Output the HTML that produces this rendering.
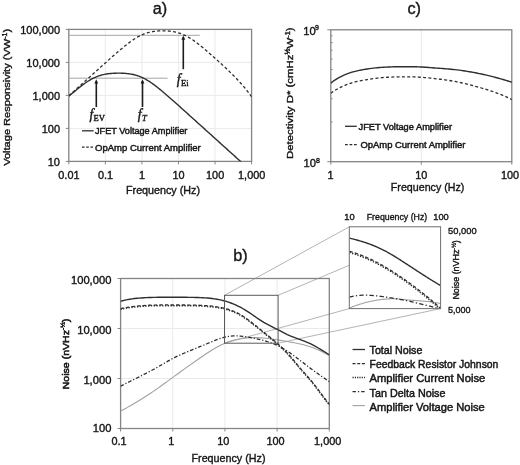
<!DOCTYPE html>
<html lang="en">
<head>
<meta charset="utf-8">
<title>Figure: responsivity, noise and detectivity</title>
<style>
html,body{margin:0;padding:0;background:#fff;}
body{width:520px;height:465px;overflow:hidden;}
svg{display:block;}
text{font-kerning:normal;stroke:#161616;stroke-width:0.38px;}
</style>
</head>
<body>
<svg width="520" height="465" viewBox="0 0 520 465">
<rect x="0" y="0" width="520" height="465" fill="#ffffff"/>
<clipPath id="ca"><rect x="68.8" y="29.4" width="182.8" height="132.0"/></clipPath>
<line x1="105.36" y1="29.4" x2="105.36" y2="161.4" stroke="#eaeaea" stroke-width="1" />
<line x1="141.92" y1="29.4" x2="141.92" y2="161.4" stroke="#eaeaea" stroke-width="1" />
<line x1="178.48" y1="29.4" x2="178.48" y2="161.4" stroke="#eaeaea" stroke-width="1" />
<line x1="215.04" y1="29.4" x2="215.04" y2="161.4" stroke="#eaeaea" stroke-width="1" />
<line x1="68.8" y1="62.40" x2="251.6" y2="62.40" stroke="#eaeaea" stroke-width="1" />
<line x1="68.8" y1="95.40" x2="251.6" y2="95.40" stroke="#eaeaea" stroke-width="1" />
<line x1="68.8" y1="128.40" x2="251.6" y2="128.40" stroke="#eaeaea" stroke-width="1" />
<rect x="68.8" y="29.4" width="182.8" height="132.0" fill="none" stroke="#848484" stroke-width="1.3"/>
<line x1="68.80" y1="161.4" x2="68.80" y2="164.4" stroke="#848484" stroke-width="1" />
<line x1="105.36" y1="161.4" x2="105.36" y2="164.4" stroke="#848484" stroke-width="1" />
<line x1="141.92" y1="161.4" x2="141.92" y2="164.4" stroke="#848484" stroke-width="1" />
<line x1="178.48" y1="161.4" x2="178.48" y2="164.4" stroke="#848484" stroke-width="1" />
<line x1="215.04" y1="161.4" x2="215.04" y2="164.4" stroke="#848484" stroke-width="1" />
<line x1="251.60" y1="161.4" x2="251.60" y2="164.4" stroke="#848484" stroke-width="1" />
<line x1="65.8" y1="29.40" x2="68.8" y2="29.40" stroke="#848484" stroke-width="1" />
<line x1="65.8" y1="62.40" x2="68.8" y2="62.40" stroke="#848484" stroke-width="1" />
<line x1="65.8" y1="95.40" x2="68.8" y2="95.40" stroke="#848484" stroke-width="1" />
<line x1="65.8" y1="128.40" x2="68.8" y2="128.40" stroke="#848484" stroke-width="1" />
<line x1="65.8" y1="161.40" x2="68.8" y2="161.40" stroke="#848484" stroke-width="1" />
<line x1="68.8" y1="78.2" x2="167.5" y2="78.2" stroke="#a6a6a6" stroke-width="1" />
<line x1="68.8" y1="35.3" x2="199.8" y2="35.3" stroke="#a6a6a6" stroke-width="1" />
<path d="M68.80,96.31 L69.95,95.31 L71.10,94.32 L72.25,93.33 L73.40,92.35 L74.55,91.38 L75.70,90.43 L76.85,89.48 L78.00,88.54 L79.15,87.62 L80.30,86.72 L81.45,85.83 L82.60,84.96 L83.75,84.12 L84.90,83.30 L86.05,82.50 L87.19,81.73 L88.34,80.99 L89.49,80.29 L90.64,79.61 L91.79,78.98 L92.94,78.38 L94.09,77.81 L95.24,77.28 L96.39,76.80 L97.54,76.35 L98.69,75.93 L99.84,75.56 L100.99,75.21 L102.14,74.90 L103.29,74.63 L104.44,74.38 L105.59,74.16 L106.74,73.97 L107.89,73.80 L109.04,73.66 L110.19,73.53 L111.34,73.43 L112.49,73.34 L113.64,73.27 L114.79,73.22 L115.94,73.18 L117.09,73.15 L118.24,73.14 L119.39,73.15 L120.54,73.17 L121.69,73.20 L122.84,73.25 L123.98,73.31 L125.13,73.39 L126.28,73.49 L127.43,73.61 L128.58,73.74 L129.73,73.90 L130.88,74.09 L132.03,74.30 L133.18,74.53 L134.33,74.80 L135.48,75.10 L136.63,75.42 L137.78,75.79 L138.93,76.19 L140.08,76.63 L141.23,77.10 L142.38,77.61 L143.53,78.16 L144.68,78.75 L145.83,79.37 L146.98,80.03 L148.13,80.73 L149.28,81.46 L150.43,82.21 L151.58,83.00 L152.73,83.81 L153.88,84.65 L155.03,85.51 L156.18,86.39 L157.33,87.29 L158.48,88.20 L159.63,89.13 L160.77,90.07 L161.92,91.03 L163.07,91.99 L164.22,92.97 L165.37,93.95 L166.52,94.94 L167.67,95.94 L168.82,96.94 L169.97,97.94 L171.12,98.95 L172.27,99.97 L173.42,100.99 L174.57,102.01 L175.72,103.03 L176.87,104.05 L178.02,105.08 L179.17,106.10 L180.32,107.13 L181.47,108.16 L182.62,109.20 L183.77,110.23 L184.92,111.26 L186.07,112.29 L187.22,113.33 L188.37,114.36 L189.52,115.40 L190.67,116.43 L191.82,117.47 L192.97,118.50 L194.12,119.54 L195.27,120.58 L196.42,121.61 L197.56,122.65 L198.71,123.69 L199.86,124.72 L201.01,125.76 L202.16,126.80 L203.31,127.84 L204.46,128.87 L205.61,129.91 L206.76,130.95 L207.91,131.98 L209.06,133.02 L210.21,134.06 L211.36,135.10 L212.51,136.13 L213.66,137.17 L214.81,138.21 L215.96,139.25 L217.11,140.29 L218.26,141.32 L219.41,142.36 L220.56,143.40 L221.71,144.44 L222.86,145.47 L224.01,146.51 L225.16,147.55 L226.31,148.59 L227.46,149.62 L228.61,150.66 L229.76,151.70 L230.91,152.74 L232.06,153.78 L233.21,154.81 L234.35,155.85 L235.50,156.89 L236.65,157.93 L237.80,158.96 L238.95,160.00 L240.10,161.04 L241.25,162.08 L242.40,163.11 L243.55,164.15 L244.70,165.19 L245.85,166.23 L247.00,167.27 L248.15,168.30 L249.30,169.34 L250.45,170.38 L251.60,171.42" fill="none" stroke="#2e2e2e" stroke-width="1.4" stroke-linecap="butt" stroke-linejoin="round" clip-path="url(#ca)"/>
<path d="M68.80,95.84 L69.95,94.80 L71.10,93.76 L72.25,92.72 L73.40,91.69 L74.55,90.65 L75.70,89.61 L76.85,88.57 L78.00,87.54 L79.15,86.50 L80.30,85.46 L81.45,84.42 L82.60,83.39 L83.75,82.35 L84.90,81.31 L86.05,80.28 L87.19,79.24 L88.34,78.20 L89.49,77.17 L90.64,76.13 L91.79,75.09 L92.94,74.06 L94.09,73.02 L95.24,71.99 L96.39,70.95 L97.54,69.92 L98.69,68.89 L99.84,67.85 L100.99,66.82 L102.14,65.79 L103.29,64.76 L104.44,63.73 L105.59,62.70 L106.74,61.68 L107.89,60.65 L109.04,59.63 L110.19,58.61 L111.34,57.59 L112.49,56.58 L113.64,55.57 L114.79,54.56 L115.94,53.56 L117.09,52.56 L118.24,51.57 L119.39,50.59 L120.54,49.61 L121.69,48.64 L122.84,47.69 L123.98,46.74 L125.13,45.81 L126.28,44.89 L127.43,43.99 L128.58,43.11 L129.73,42.24 L130.88,41.40 L132.03,40.58 L133.18,39.79 L134.33,39.03 L135.48,38.30 L136.63,37.60 L137.78,36.93 L138.93,36.30 L140.08,35.71 L141.23,35.16 L142.38,34.64 L143.53,34.16 L144.68,33.72 L145.83,33.31 L146.98,32.95 L148.13,32.62 L149.28,32.32 L150.43,32.05 L151.58,31.82 L152.73,31.61 L153.88,31.43 L155.03,31.28 L156.18,31.15 L157.33,31.05 L158.48,30.96 L159.63,30.90 L160.77,30.86 L161.92,30.83 L163.07,30.83 L164.22,30.84 L165.37,30.87 L166.52,30.92 L167.67,30.99 L168.82,31.08 L169.97,31.20 L171.12,31.33 L172.27,31.50 L173.42,31.68 L174.57,31.90 L175.72,32.14 L176.87,32.42 L178.02,32.73 L179.17,33.07 L180.32,33.45 L181.47,33.87 L182.62,34.32 L183.77,34.82 L184.92,35.35 L186.07,35.92 L187.22,36.52 L188.37,37.17 L189.52,37.85 L190.67,38.56 L191.82,39.30 L192.97,40.07 L194.12,40.88 L195.27,41.70 L196.42,42.55 L197.56,43.43 L198.71,44.32 L199.86,45.23 L201.01,46.15 L202.16,47.09 L203.31,48.04 L204.46,49.01 L205.61,49.98 L206.76,50.96 L207.91,51.95 L209.06,52.95 L210.21,53.96 L211.36,54.97 L212.51,55.99 L213.66,57.01 L214.81,58.04 L215.96,59.07 L217.11,60.10 L218.26,61.14 L219.41,62.19 L220.56,63.24 L221.71,64.30 L222.86,65.36 L224.01,66.42 L225.16,67.50 L226.31,68.57 L227.46,69.66 L228.61,70.76 L229.76,71.86 L230.91,72.98 L232.06,74.11 L233.21,75.25 L234.35,76.40 L235.50,77.58 L236.65,78.77 L237.80,79.98 L238.95,81.21 L240.10,82.47 L241.25,83.75 L242.40,85.06 L243.55,86.41 L244.70,87.78 L245.85,89.19 L247.00,90.63 L248.15,92.11 L249.30,93.63 L250.45,95.19 L251.60,96.78" fill="none" stroke="#2e2e2e" stroke-width="1.3" stroke-linecap="butt" stroke-linejoin="round" stroke-dasharray="3 2.3" clip-path="url(#ca)"/>
<line x1="96.3" y1="81.3" x2="96.3" y2="107" stroke="#1c1c1c" stroke-width="1.6" />
<path d="M96.3,79.3 L94.39999999999999,83.5 L98.2,83.5 Z" fill="#1c1c1c"/>
<line x1="142.5" y1="81.3" x2="142.5" y2="107" stroke="#1c1c1c" stroke-width="1.6" />
<path d="M142.5,79.3 L140.6,83.5 L144.4,83.5 Z" fill="#1c1c1c"/>
<line x1="183.3" y1="37.6" x2="183.3" y2="69.2" stroke="#1c1c1c" stroke-width="1.6" />
<path d="M183.3,35.6 L181.4,39.800000000000004 L185.20000000000002,39.800000000000004 Z" fill="#1c1c1c"/>
<text x="89.4" y="118.6" font-family='"Liberation Serif", serif' font-size="13.8" fill="#161616"><tspan font-style="italic">f</tspan><tspan dx="0.3" dy="2.7" font-size="8.6">EV</tspan></text>
<text x="137.8" y="118.6" font-family='"Liberation Serif", serif' font-size="13.8" fill="#161616"><tspan font-style="italic">f</tspan><tspan dx="0.3" dy="2.7" font-size="8.6" font-style="italic">T</tspan></text>
<text x="176.8" y="83.6" font-family='"Liberation Serif", serif' font-size="13.8" fill="#161616"><tspan font-style="italic">f</tspan><tspan dx="0.3" dy="2.7" font-size="8.6">Ei</tspan></text>
<line x1="82" y1="130.8" x2="93.6" y2="130.8" stroke="#2e2e2e" stroke-width="1.3" />
<text x="95" y="133.8" font-family='"Liberation Sans", sans-serif' font-size="9.2" text-anchor="start" fill="#161616" textLength="92.3" lengthAdjust="spacingAndGlyphs" style="stroke-width:0.45px">JFET Voltage Amplifier</text>
<line x1="82" y1="147.2" x2="93" y2="147.2" stroke="#2e2e2e" stroke-width="1.3" stroke-dasharray="2.6 1.6"/>
<text x="95" y="150.6" font-family='"Liberation Sans", sans-serif' font-size="9.2" text-anchor="start" fill="#161616" textLength="105.8" lengthAdjust="spacingAndGlyphs" style="stroke-width:0.45px">OpAmp Current Amplifier</text>
<text x="60" y="34.00" font-family='"Liberation Sans", sans-serif' font-size="11.0" text-anchor="end" fill="#161616">100,000</text>
<text x="60" y="67.00" font-family='"Liberation Sans", sans-serif' font-size="11.0" text-anchor="end" fill="#161616">10,000</text>
<text x="60" y="100.00" font-family='"Liberation Sans", sans-serif' font-size="11.0" text-anchor="end" fill="#161616">1,000</text>
<text x="60" y="133.00" font-family='"Liberation Sans", sans-serif' font-size="11.0" text-anchor="end" fill="#161616">100</text>
<text x="60" y="166.00" font-family='"Liberation Sans", sans-serif' font-size="11.0" text-anchor="end" fill="#161616">10</text>
<text x="68.90" y="178.8" font-family='"Liberation Sans", sans-serif' font-size="10.9" text-anchor="middle" fill="#161616">0.01</text>
<text x="105.46" y="178.8" font-family='"Liberation Sans", sans-serif' font-size="10.9" text-anchor="middle" fill="#161616">0.1</text>
<text x="142.02" y="178.8" font-family='"Liberation Sans", sans-serif' font-size="10.9" text-anchor="middle" fill="#161616">1</text>
<text x="178.58" y="178.8" font-family='"Liberation Sans", sans-serif' font-size="10.9" text-anchor="middle" fill="#161616">10</text>
<text x="215.14" y="178.8" font-family='"Liberation Sans", sans-serif' font-size="10.9" text-anchor="middle" fill="#161616">100</text>
<text x="251.70" y="178.8" font-family='"Liberation Sans", sans-serif' font-size="10.9" text-anchor="middle" fill="#161616">1,000</text>
<text x="163" y="193.9" font-family='"Liberation Sans", sans-serif' font-size="11" text-anchor="middle" fill="#161616" textLength="74" lengthAdjust="spacingAndGlyphs">Frequency (Hz)</text>
<text x="10.2" y="97.3" font-family='"Liberation Sans", sans-serif' font-size="9.9" text-anchor="middle" fill="#161616" textLength="137" lengthAdjust="spacingAndGlyphs" transform="rotate(-90 10.2 97.3)">Voltage Responsivity (VW<tspan font-size="6.3" dy="-3.4">-1</tspan><tspan dy="3.4">)</tspan></text>
<text x="160" y="14.3" font-family='"Liberation Sans", sans-serif' font-size="16.3" text-anchor="middle" fill="#161616">a)</text>
<clipPath id="cc"><rect x="330.8" y="29.8" width="181.0" height="131.89999999999998"/></clipPath>
<line x1="421.30" y1="29.8" x2="421.30" y2="161.7" stroke="#eaeaea" stroke-width="1" />
<rect x="330.8" y="29.8" width="181.0" height="131.89999999999998" fill="none" stroke="#848484" stroke-width="1.3"/>
<line x1="330.80" y1="161.7" x2="330.80" y2="164.7" stroke="#848484" stroke-width="1" />
<line x1="421.30" y1="161.7" x2="421.30" y2="164.7" stroke="#848484" stroke-width="1" />
<line x1="511.80" y1="161.7" x2="511.80" y2="164.7" stroke="#848484" stroke-width="1" />
<line x1="327.3" y1="161.70" x2="330.8" y2="161.70" stroke="#848484" stroke-width="1" />
<line x1="330.8" y1="121.99" x2="332.8" y2="121.99" stroke="#848484" stroke-width="0.8" />
<line x1="330.8" y1="98.77" x2="332.8" y2="98.77" stroke="#848484" stroke-width="0.8" />
<line x1="330.8" y1="82.29" x2="332.8" y2="82.29" stroke="#848484" stroke-width="0.8" />
<line x1="330.8" y1="69.51" x2="332.8" y2="69.51" stroke="#848484" stroke-width="0.8" />
<line x1="330.8" y1="59.06" x2="332.8" y2="59.06" stroke="#848484" stroke-width="0.8" />
<line x1="330.8" y1="50.23" x2="332.8" y2="50.23" stroke="#848484" stroke-width="0.8" />
<line x1="330.8" y1="42.58" x2="332.8" y2="42.58" stroke="#848484" stroke-width="0.8" />
<line x1="330.8" y1="35.84" x2="332.8" y2="35.84" stroke="#848484" stroke-width="0.8" />
<line x1="327.3" y1="29.80" x2="330.8" y2="29.80" stroke="#848484" stroke-width="1" />
<path d="M330.75,83.10 L332.79,81.55 L334.82,80.13 L336.86,78.82 L338.90,77.63 L340.93,76.54 L342.97,75.55 L345.01,74.66 L347.04,73.85 L349.08,73.11 L351.12,72.45 L353.15,71.86 L355.19,71.32 L357.22,70.84 L359.26,70.40 L361.30,70.00 L363.33,69.63 L365.37,69.29 L367.41,68.97 L369.44,68.67 L371.48,68.40 L373.52,68.15 L375.55,67.92 L377.59,67.72 L379.63,67.53 L381.66,67.37 L383.70,67.23 L385.74,67.12 L387.77,67.02 L389.81,66.94 L391.85,66.87 L393.88,66.81 L395.92,66.77 L397.96,66.74 L399.99,66.72 L402.03,66.70 L404.06,66.69 L406.10,66.68 L408.14,66.68 L410.17,66.69 L412.21,66.72 L414.25,66.75 L416.28,66.80 L418.32,66.87 L420.36,66.95 L422.39,67.06 L424.43,67.18 L426.47,67.32 L428.50,67.47 L430.54,67.62 L432.58,67.78 L434.61,67.93 L436.65,68.08 L438.69,68.23 L440.72,68.39 L442.76,68.54 L444.79,68.70 L446.83,68.87 L448.87,69.05 L450.90,69.24 L452.94,69.44 L454.98,69.66 L457.01,69.90 L459.05,70.16 L461.09,70.43 L463.12,70.72 L465.16,71.03 L467.20,71.35 L469.23,71.69 L471.27,72.04 L473.31,72.41 L475.34,72.80 L477.38,73.19 L479.42,73.61 L481.45,74.04 L483.49,74.48 L485.53,74.94 L487.56,75.41 L489.60,75.90 L491.63,76.41 L493.67,76.93 L495.71,77.46 L497.74,78.01 L499.78,78.58 L501.82,79.16 L503.85,79.76 L505.89,80.37 L507.93,81.00 L509.96,81.64 L512.00,82.30" fill="none" stroke="#2e2e2e" stroke-width="1.4" stroke-linecap="butt" stroke-linejoin="round" clip-path="url(#cc)"/>
<path d="M330.75,93.30 L332.79,91.84 L334.82,90.49 L336.86,89.25 L338.90,88.12 L340.93,87.08 L342.97,86.13 L345.01,85.27 L347.04,84.48 L349.08,83.76 L351.12,83.11 L353.15,82.52 L355.19,81.98 L357.22,81.49 L359.26,81.04 L361.30,80.62 L363.33,80.23 L365.37,79.86 L367.41,79.52 L369.44,79.19 L371.48,78.89 L373.52,78.60 L375.55,78.34 L377.59,78.10 L379.63,77.89 L381.66,77.69 L383.70,77.52 L385.74,77.37 L387.77,77.24 L389.81,77.13 L391.85,77.03 L393.88,76.96 L395.92,76.90 L397.96,76.85 L399.99,76.82 L402.03,76.80 L404.06,76.79 L406.10,76.79 L408.14,76.81 L410.17,76.84 L412.21,76.88 L414.25,76.94 L416.28,77.02 L418.32,77.12 L420.36,77.24 L422.39,77.38 L424.43,77.54 L426.47,77.71 L428.50,77.90 L430.54,78.11 L432.58,78.32 L434.61,78.55 L436.65,78.78 L438.69,79.02 L440.72,79.27 L442.76,79.53 L444.79,79.80 L446.83,80.10 L448.87,80.41 L450.90,80.74 L452.94,81.10 L454.98,81.48 L457.01,81.88 L459.05,82.31 L461.09,82.75 L463.12,83.22 L465.16,83.70 L467.20,84.20 L469.23,84.71 L471.27,85.23 L473.31,85.76 L475.34,86.30 L477.38,86.85 L479.42,87.42 L481.45,88.00 L483.49,88.60 L485.53,89.21 L487.56,89.84 L489.60,90.50 L491.63,91.18 L493.67,91.88 L495.71,92.61 L497.74,93.37 L499.78,94.15 L501.82,94.97 L503.85,95.82 L505.89,96.71 L507.93,97.64 L509.96,98.60 L512.00,99.60" fill="none" stroke="#2e2e2e" stroke-width="1.3" stroke-linecap="butt" stroke-linejoin="round" stroke-dasharray="3 2.3" clip-path="url(#cc)"/>
<line x1="345" y1="126.3" x2="356.8" y2="126.3" stroke="#2e2e2e" stroke-width="1.3" />
<text x="358.5" y="129.5" font-family='"Liberation Sans", sans-serif' font-size="9.2" text-anchor="start" fill="#161616" textLength="93.5" lengthAdjust="spacingAndGlyphs" style="stroke-width:0.45px">JFET Voltage Amplifier</text>
<line x1="345" y1="144.6" x2="357" y2="144.6" stroke="#2e2e2e" stroke-width="1.3" stroke-dasharray="2.8 1.7"/>
<text x="360.4" y="147.8" font-family='"Liberation Sans", sans-serif' font-size="9.2" text-anchor="start" fill="#161616" textLength="105" lengthAdjust="spacingAndGlyphs" style="stroke-width:0.45px">OpAmp Current Amplifier</text>
<text x="303.2" y="34.5" font-family='"Liberation Sans", sans-serif' font-size="11.2" text-anchor="start" fill="#161616">10<tspan font-size="7" dx="-0.6" dy="-4.8">9</tspan></text>
<text x="303.6" y="167.2" font-family='"Liberation Sans", sans-serif' font-size="11.2" text-anchor="start" fill="#161616">10<tspan font-size="7" dy="-4.2">8</tspan></text>
<text x="330.6" y="178.9" font-family='"Liberation Sans", sans-serif' font-size="10.9" text-anchor="middle" fill="#161616">1</text>
<text x="421.2" y="178.9" font-family='"Liberation Sans", sans-serif' font-size="10.9" text-anchor="middle" fill="#161616">10</text>
<text x="510.0" y="178.9" font-family='"Liberation Sans", sans-serif' font-size="10.9" text-anchor="middle" fill="#161616">100</text>
<text x="427.6" y="190.9" font-family='"Liberation Sans", sans-serif' font-size="11" text-anchor="middle" fill="#161616" textLength="73.5" lengthAdjust="spacingAndGlyphs">Frequency (Hz)</text>
<text x="293.2" y="93.2" font-family='"Liberation Sans", sans-serif' font-size="9.9" text-anchor="middle" fill="#161616" textLength="131.6" lengthAdjust="spacingAndGlyphs" transform="rotate(-90 293.2 93.2)">Detectivity D* (cmHz<tspan font-size="6.3" dy="-3.4">½</tspan><tspan dy="3.4">W</tspan><tspan font-size="6.3" dy="-3.4">-1</tspan><tspan dy="3.4">)</tspan></text>
<text x="414.2" y="13.8" font-family='"Liberation Sans", sans-serif' font-size="16.3" text-anchor="middle" fill="#161616">c)</text>
<clipPath id="cb"><rect x="120.6" y="278.5" width="208.70000000000002" height="150.0"/></clipPath>
<line x1="172.78" y1="278.5" x2="172.78" y2="428.5" stroke="#eaeaea" stroke-width="1" />
<line x1="224.95" y1="278.5" x2="224.95" y2="428.5" stroke="#eaeaea" stroke-width="1" />
<line x1="277.12" y1="278.5" x2="277.12" y2="428.5" stroke="#eaeaea" stroke-width="1" />
<line x1="120.6" y1="328.50" x2="329.3" y2="328.50" stroke="#eaeaea" stroke-width="1" />
<line x1="120.6" y1="378.50" x2="329.3" y2="378.50" stroke="#eaeaea" stroke-width="1" />
<line x1="224.5" y1="295.3" x2="349.3" y2="226.8" stroke="#b4b4b4" stroke-width="1" />
<line x1="278.1" y1="295.3" x2="440.6" y2="226.8" stroke="#b4b4b4" stroke-width="1" />
<line x1="224.5" y1="343.2" x2="349.3" y2="308.6" stroke="#b4b4b4" stroke-width="1" />
<line x1="278.1" y1="343.2" x2="440.6" y2="308.6" stroke="#b4b4b4" stroke-width="1" />
<rect x="120.6" y="278.5" width="208.70000000000002" height="150.0" fill="none" stroke="#848484" stroke-width="1.3"/>
<line x1="120.60" y1="428.5" x2="120.60" y2="431.5" stroke="#848484" stroke-width="1" />
<line x1="172.78" y1="428.5" x2="172.78" y2="431.5" stroke="#848484" stroke-width="1" />
<line x1="224.95" y1="428.5" x2="224.95" y2="431.5" stroke="#848484" stroke-width="1" />
<line x1="277.12" y1="428.5" x2="277.12" y2="431.5" stroke="#848484" stroke-width="1" />
<line x1="329.30" y1="428.5" x2="329.30" y2="431.5" stroke="#848484" stroke-width="1" />
<line x1="117.6" y1="278.50" x2="120.6" y2="278.50" stroke="#848484" stroke-width="1" />
<line x1="117.6" y1="328.50" x2="120.6" y2="328.50" stroke="#848484" stroke-width="1" />
<line x1="117.6" y1="378.50" x2="120.6" y2="378.50" stroke="#848484" stroke-width="1" />
<line x1="117.6" y1="428.50" x2="120.6" y2="428.50" stroke="#848484" stroke-width="1" />
<path d="M120.40,411.20 L122.75,409.95 L125.10,408.67 L127.45,407.37 L129.80,406.04 L132.15,404.69 L134.50,403.31 L136.85,401.91 L139.20,400.48 L141.56,399.02 L143.91,397.54 L146.26,396.03 L148.61,394.50 L150.96,392.94 L153.31,391.36 L155.66,389.74 L158.01,388.10 L160.36,386.44 L162.71,384.75 L165.06,383.05 L167.41,381.33 L169.76,379.61 L172.11,377.88 L174.46,376.16 L176.81,374.44 L179.16,372.72 L181.51,371.02 L183.87,369.33 L186.22,367.65 L188.57,365.98 L190.92,364.33 L193.27,362.69 L195.62,361.06 L197.97,359.43 L200.32,357.80 L202.67,356.18 L205.02,354.57 L207.37,352.99 L209.72,351.44 L212.07,349.96 L214.42,348.53 L216.77,347.18 L219.12,345.91 L221.47,344.73 L223.82,343.65 L226.18,342.67 L228.53,341.80 L230.88,341.02 L233.23,340.34 L235.58,339.74 L237.93,339.23 L240.28,338.79 L242.63,338.42 L244.98,338.12 L247.33,337.89 L249.68,337.72 L252.03,337.62 L254.38,337.59 L256.73,337.63 L259.08,337.72 L261.43,337.87 L263.78,338.06 L266.13,338.30 L268.49,338.57 L270.84,338.87 L273.19,339.21 L275.54,339.57 L277.89,339.95 L280.24,340.34 L282.59,340.75 L284.94,341.16 L287.29,341.57 L289.64,341.98 L291.99,342.39 L294.34,342.81 L296.69,343.26 L299.04,343.75 L301.39,344.27 L303.74,344.84 L306.09,345.48 L308.44,346.18 L310.80,346.96 L313.15,347.82 L315.50,348.75 L317.85,349.75 L320.20,350.83 L322.55,351.97 L324.90,353.18 L327.25,354.46 L329.60,355.80" fill="none" stroke="#a2a2a2" stroke-width="1.1" stroke-linecap="butt" stroke-linejoin="round" clip-path="url(#cb)"/>
<path d="M120.40,386.30 L122.75,385.06 L125.11,383.85 L127.46,382.65 L129.81,381.47 L132.16,380.30 L134.52,379.13 L136.87,377.97 L139.22,376.80 L141.58,375.63 L143.93,374.44 L146.28,373.24 L148.63,372.02 L150.99,370.78 L153.34,369.51 L155.69,368.21 L158.04,366.87 L160.40,365.51 L162.75,364.12 L165.10,362.74 L167.46,361.38 L169.81,360.05 L172.16,358.78 L174.51,357.57 L176.87,356.43 L179.22,355.34 L181.57,354.29 L183.93,353.27 L186.28,352.28 L188.63,351.31 L190.98,350.34 L193.34,349.37 L195.69,348.41 L198.04,347.44 L200.40,346.47 L202.75,345.48 L205.10,344.49 L207.45,343.50 L209.81,342.51 L212.16,341.53 L214.51,340.57 L216.87,339.64 L219.22,338.77 L221.57,337.99 L223.92,337.32 L226.28,336.78 L228.63,336.38 L230.98,336.10 L233.33,335.94 L235.69,335.89 L238.04,335.95 L240.39,336.10 L242.75,336.33 L245.10,336.64 L247.45,337.01 L249.80,337.43 L252.16,337.89 L254.51,338.37 L256.86,338.89 L259.22,339.43 L261.57,340.01 L263.92,340.62 L266.27,341.29 L268.63,342.00 L270.98,342.79 L273.33,343.67 L275.69,344.64 L278.04,345.72 L280.39,346.93 L282.74,348.25 L285.10,349.68 L287.45,351.20 L289.80,352.80 L292.16,354.47 L294.51,356.19 L296.86,357.95 L299.21,359.74 L301.57,361.54 L303.92,363.34 L306.27,365.13 L308.62,366.90 L310.98,368.66 L313.33,370.40 L315.68,372.12 L318.04,373.81 L320.39,375.47 L322.74,377.12 L325.09,378.73 L327.45,380.33 L329.80,381.90" fill="none" stroke="#2e2e2e" stroke-width="1.3" stroke-linecap="butt" stroke-linejoin="round" stroke-dasharray="3.7 1.9 1.2 1.9" clip-path="url(#cb)"/>
<path d="M120.40,308.80 L122.75,308.21 L125.11,307.71 L127.46,307.29 L129.81,306.93 L132.16,306.62 L134.52,306.35 L136.87,306.11 L139.22,305.90 L141.58,305.70 L143.93,305.53 L146.28,305.38 L148.63,305.26 L150.99,305.16 L153.34,305.09 L155.69,305.03 L158.04,304.99 L160.40,304.97 L162.75,304.96 L165.10,304.96 L167.46,304.97 L169.81,304.98 L172.16,304.99 L174.51,305.00 L176.87,305.00 L179.22,305.00 L181.57,305.00 L183.93,305.01 L186.28,305.01 L188.63,305.03 L190.98,305.05 L193.34,305.09 L195.69,305.15 L198.04,305.22 L200.40,305.32 L202.75,305.44 L205.10,305.59 L207.45,305.76 L209.81,305.97 L212.16,306.22 L214.51,306.50 L216.87,306.83 L219.22,307.22 L221.57,307.67 L223.92,308.19 L226.28,308.78 L228.63,309.47 L230.98,310.26 L233.33,311.15 L235.69,312.16 L238.04,313.30 L240.39,314.58 L242.75,316.01 L245.10,317.58 L247.45,319.27 L249.80,321.04 L252.16,322.88 L254.51,324.74 L256.86,326.61 L259.22,328.50 L261.57,330.39 L263.92,332.28 L266.27,334.17 L268.63,336.07 L270.98,337.99 L273.33,339.95 L275.69,341.96 L278.04,344.03 L280.39,346.18 L282.74,348.41 L285.10,350.75 L287.45,353.20 L289.80,355.77 L292.16,358.48 L294.51,361.29 L296.86,364.15 L299.21,367.00 L301.57,369.77 L303.92,372.42 L306.27,375.03 L308.62,377.66 L310.98,380.38 L313.33,383.27 L315.68,386.30 L318.04,389.44 L320.39,392.62 L322.74,395.80 L325.09,398.92 L327.45,401.94 L329.80,404.80" fill="none" stroke="#2e2e2e" stroke-width="1.3" stroke-linecap="butt" stroke-linejoin="round" stroke-dasharray="3.4 2.2" clip-path="url(#cb)"/>
<path d="M120.40,309.50 L122.75,308.91 L125.11,308.41 L127.46,307.99 L129.81,307.63 L132.16,307.32 L134.52,307.05 L136.87,306.81 L139.22,306.60 L141.58,306.40 L143.93,306.23 L146.28,306.08 L148.63,305.96 L150.99,305.86 L153.34,305.79 L155.69,305.73 L158.04,305.69 L160.40,305.67 L162.75,305.66 L165.10,305.66 L167.46,305.67 L169.81,305.68 L172.16,305.69 L174.51,305.70 L176.87,305.70 L179.22,305.70 L181.57,305.70 L183.93,305.71 L186.28,305.71 L188.63,305.73 L190.98,305.75 L193.34,305.79 L195.69,305.85 L198.04,305.92 L200.40,306.02 L202.75,306.14 L205.10,306.29 L207.45,306.46 L209.81,306.67 L212.16,306.92 L214.51,307.20 L216.87,307.53 L219.22,307.92 L221.57,308.37 L223.92,308.89 L226.28,309.48 L228.63,310.17 L230.98,310.96 L233.33,311.85 L235.69,312.86 L238.04,314.00 L240.39,315.28 L242.75,316.71 L245.10,318.28 L247.45,319.97 L249.80,321.74 L252.16,323.58 L254.51,325.44 L256.86,327.31 L259.22,329.20 L261.57,331.09 L263.92,332.98 L266.27,334.87 L268.63,336.77 L270.98,338.69 L273.33,340.65 L275.69,342.66 L278.04,344.73 L280.39,346.88 L282.74,349.11 L285.10,351.45 L287.45,353.90 L289.80,356.47 L292.16,359.18 L294.51,361.99 L296.86,364.85 L299.21,367.70 L301.57,370.47 L303.92,373.12 L306.27,375.73 L308.62,378.36 L310.98,381.08 L313.33,383.97 L315.68,387.00 L318.04,390.14 L320.39,393.32 L322.74,396.50 L325.09,399.62 L327.45,402.64 L329.80,405.50" fill="none" stroke="#2e2e2e" stroke-width="1.5" stroke-linecap="butt" stroke-linejoin="round" stroke-dasharray="1.3 1.5" clip-path="url(#cb)"/>
<path d="M120.40,301.40 L122.75,300.70 L125.10,300.10 L127.45,299.60 L129.80,299.19 L132.15,298.85 L134.50,298.56 L136.85,298.32 L139.20,298.11 L141.56,297.93 L143.91,297.78 L146.26,297.65 L148.61,297.55 L150.96,297.47 L153.31,297.41 L155.66,297.36 L158.01,297.32 L160.36,297.30 L162.71,297.29 L165.06,297.28 L167.41,297.28 L169.76,297.29 L172.11,297.29 L174.46,297.30 L176.81,297.30 L179.16,297.30 L181.51,297.31 L183.87,297.31 L186.22,297.32 L188.57,297.34 L190.92,297.36 L193.27,297.40 L195.62,297.46 L197.97,297.53 L200.32,297.61 L202.67,297.72 L205.02,297.86 L207.37,298.03 L209.72,298.25 L212.07,298.51 L214.42,298.83 L216.77,299.21 L219.12,299.65 L221.47,300.16 L223.82,300.75 L226.18,301.41 L228.53,302.15 L230.88,302.98 L233.23,303.90 L235.58,304.90 L237.93,306.01 L240.28,307.20 L242.63,308.50 L244.98,309.90 L247.33,311.37 L249.68,312.91 L252.03,314.50 L254.38,316.11 L256.73,317.74 L259.08,319.34 L261.43,320.88 L263.78,322.35 L266.13,323.72 L268.49,324.99 L270.84,326.20 L273.19,327.38 L275.54,328.55 L277.89,329.74 L280.24,330.97 L282.59,332.22 L284.94,333.43 L287.29,334.56 L289.64,335.60 L291.99,336.56 L294.34,337.46 L296.69,338.33 L299.04,339.18 L301.39,340.04 L303.74,340.93 L306.09,341.87 L308.44,342.88 L310.80,343.97 L313.15,345.16 L315.50,346.41 L317.85,347.74 L320.20,349.11 L322.55,350.54 L324.90,352.00 L327.25,353.49 L329.60,355.00" fill="none" stroke="#2e2e2e" stroke-width="1.4" stroke-linecap="butt" stroke-linejoin="round" clip-path="url(#cb)"/>
<rect x="224.5" y="295.3" width="53.60000000000002" height="47.89999999999998" fill="none" stroke="#5a5a5a" stroke-width="1"/>
<text x="111.4" y="284.05" font-family='"Liberation Sans", sans-serif' font-size="11.2" text-anchor="end" fill="#161616">100,000</text>
<text x="111.4" y="334.05" font-family='"Liberation Sans", sans-serif' font-size="11.2" text-anchor="end" fill="#161616">10,000</text>
<text x="111.4" y="383.85" font-family='"Liberation Sans", sans-serif' font-size="11.2" text-anchor="end" fill="#161616">1,000</text>
<text x="111.4" y="431.85" font-family='"Liberation Sans", sans-serif' font-size="11.2" text-anchor="end" fill="#161616">100</text>
<text x="119.00" y="445.2" font-family='"Liberation Sans", sans-serif' font-size="10.9" text-anchor="middle" fill="#161616">0.1</text>
<text x="171.18" y="445.2" font-family='"Liberation Sans", sans-serif' font-size="10.9" text-anchor="middle" fill="#161616">1</text>
<text x="223.35" y="445.2" font-family='"Liberation Sans", sans-serif' font-size="10.9" text-anchor="middle" fill="#161616">10</text>
<text x="275.52" y="445.2" font-family='"Liberation Sans", sans-serif' font-size="10.9" text-anchor="middle" fill="#161616">100</text>
<text x="327.70" y="445.2" font-family='"Liberation Sans", sans-serif' font-size="10.9" text-anchor="middle" fill="#161616">1,000</text>
<text x="228.5" y="461.6" font-family='"Liberation Sans", sans-serif' font-size="11" text-anchor="middle" fill="#161616" textLength="74" lengthAdjust="spacingAndGlyphs">Frequency (Hz)</text>
<text x="68.6" y="354" font-family='"Liberation Sans", sans-serif' font-size="9.9" text-anchor="middle" fill="#161616" textLength="70.5" lengthAdjust="spacingAndGlyphs" transform="rotate(-90 68.6 354)" style="stroke-width:0.55px">Noise (nVHz<tspan font-size="6.2" dy="-3.3">-½</tspan><tspan dy="3.3">)</tspan></text>
<text x="240.5" y="261.2" font-family='"Liberation Sans", sans-serif' font-size="16.3" text-anchor="middle" fill="#161616">b)</text>
<clipPath id="ci"><rect x="349.3" y="226.8" width="91.30000000000001" height="81.80000000000001"/></clipPath>
<rect x="349.3" y="226.8" width="91.30000000000001" height="81.80000000000001" fill="#fff" stroke="none"/>
<path d="M349.40,308.10 L350.43,307.67 L351.46,307.26 L352.49,306.85 L353.52,306.45 L354.55,306.07 L355.58,305.70 L356.60,305.33 L357.63,304.98 L358.66,304.64 L359.69,304.30 L360.72,303.98 L361.75,303.67 L362.78,303.36 L363.81,303.07 L364.84,302.79 L365.87,302.52 L366.90,302.25 L367.93,302.00 L368.96,301.76 L369.98,301.52 L371.01,301.30 L372.04,301.08 L373.07,300.88 L374.10,300.68 L375.13,300.50 L376.16,300.32 L377.19,300.15 L378.22,299.99 L379.25,299.84 L380.28,299.70 L381.31,299.57 L382.33,299.44 L383.36,299.33 L384.39,299.22 L385.42,299.12 L386.45,299.03 L387.48,298.96 L388.51,298.89 L389.54,298.84 L390.57,298.80 L391.60,298.77 L392.63,298.76 L393.66,298.77 L394.69,298.79 L395.71,298.83 L396.74,298.89 L397.77,298.96 L398.80,299.05 L399.83,299.14 L400.86,299.24 L401.89,299.34 L402.92,299.45 L403.95,299.56 L404.98,299.66 L406.01,299.75 L407.04,299.84 L408.07,299.93 L409.09,300.02 L410.12,300.10 L411.15,300.18 L412.18,300.26 L413.21,300.34 L414.24,300.41 L415.27,300.49 L416.30,300.57 L417.33,300.64 L418.36,300.72 L419.39,300.80 L420.42,300.88 L421.44,300.96 L422.47,301.05 L423.50,301.14 L424.53,301.23 L425.56,301.33 L426.59,301.43 L427.62,301.54 L428.65,301.65 L429.68,301.77 L430.71,301.89 L431.74,302.02 L432.77,302.16 L433.80,302.31 L434.82,302.47 L435.85,302.63 L436.88,302.80 L437.91,302.99 L438.94,303.18 L439.97,303.38 L441.00,303.60" fill="none" stroke="#a2a2a2" stroke-width="1.1" stroke-linecap="butt" stroke-linejoin="round" clip-path="url(#ci)"/>
<path d="M349.40,297.20 L350.43,296.92 L351.46,296.67 L352.49,296.43 L353.52,296.22 L354.55,296.03 L355.58,295.86 L356.60,295.71 L357.63,295.58 L358.66,295.47 L359.69,295.38 L360.72,295.30 L361.75,295.24 L362.78,295.20 L363.81,295.17 L364.84,295.16 L365.87,295.16 L366.90,295.18 L367.93,295.21 L368.96,295.25 L369.98,295.30 L371.01,295.36 L372.04,295.43 L373.07,295.52 L374.10,295.61 L375.13,295.71 L376.16,295.82 L377.19,295.93 L378.22,296.05 L379.25,296.18 L380.28,296.31 L381.31,296.44 L382.33,296.58 L383.36,296.73 L384.39,296.87 L385.42,297.02 L386.45,297.17 L387.48,297.32 L388.51,297.47 L389.54,297.62 L390.57,297.78 L391.60,297.94 L392.63,298.10 L393.66,298.27 L394.69,298.44 L395.71,298.61 L396.74,298.78 L397.77,298.96 L398.80,299.14 L399.83,299.33 L400.86,299.52 L401.89,299.71 L402.92,299.91 L403.95,300.11 L404.98,300.32 L406.01,300.53 L407.04,300.74 L408.07,300.96 L409.09,301.19 L410.12,301.42 L411.15,301.65 L412.18,301.88 L413.21,302.12 L414.24,302.36 L415.27,302.60 L416.30,302.85 L417.33,303.10 L418.36,303.35 L419.39,303.60 L420.42,303.85 L421.44,304.11 L422.47,304.37 L423.50,304.62 L424.53,304.88 L425.56,305.14 L426.59,305.40 L427.62,305.67 L428.65,305.93 L429.68,306.19 L430.71,306.45 L431.74,306.71 L432.77,306.97 L433.80,307.23 L434.82,307.49 L435.85,307.74 L436.88,308.00 L437.91,308.25 L438.94,308.50 L439.97,308.75 L441.00,309.00" fill="none" stroke="#2e2e2e" stroke-width="1.25" stroke-linecap="butt" stroke-linejoin="round" stroke-dasharray="4.4 2.2 1.3 2.2" clip-path="url(#ci)"/>
<path d="M349.40,251.30 L350.43,251.59 L351.46,251.90 L352.49,252.21 L353.52,252.54 L354.55,252.87 L355.58,253.21 L356.60,253.57 L357.63,253.93 L358.66,254.30 L359.69,254.68 L360.72,255.07 L361.75,255.47 L362.78,255.87 L363.81,256.29 L364.84,256.72 L365.87,257.15 L366.90,257.59 L367.93,258.05 L368.96,258.51 L369.98,258.98 L371.01,259.46 L372.04,259.95 L373.07,260.45 L374.10,260.95 L375.13,261.47 L376.16,261.99 L377.19,262.52 L378.22,263.06 L379.25,263.61 L380.28,264.17 L381.31,264.73 L382.33,265.31 L383.36,265.89 L384.39,266.48 L385.42,267.08 L386.45,267.69 L387.48,268.30 L388.51,268.92 L389.54,269.56 L390.57,270.19 L391.60,270.84 L392.63,271.49 L393.66,272.15 L394.69,272.82 L395.71,273.49 L396.74,274.17 L397.77,274.85 L398.80,275.54 L399.83,276.24 L400.86,276.94 L401.89,277.65 L402.92,278.36 L403.95,279.08 L404.98,279.81 L406.01,280.54 L407.04,281.27 L408.07,282.01 L409.09,282.75 L410.12,283.50 L411.15,284.25 L412.18,285.01 L413.21,285.78 L414.24,286.55 L415.27,287.33 L416.30,288.11 L417.33,288.89 L418.36,289.69 L419.39,290.49 L420.42,291.29 L421.44,292.10 L422.47,292.92 L423.50,293.74 L424.53,294.57 L425.56,295.40 L426.59,296.24 L427.62,297.09 L428.65,297.94 L429.68,298.80 L430.71,299.67 L431.74,300.54 L432.77,301.42 L433.80,302.31 L434.82,303.20 L435.85,304.10 L436.88,305.01 L437.91,305.92 L438.94,306.84 L439.97,307.77 L441.00,308.70" fill="none" stroke="#2e2e2e" stroke-width="1.3" stroke-linecap="butt" stroke-linejoin="round" stroke-dasharray="3.4 2.2" clip-path="url(#ci)"/>
<path d="M349.40,252.50 L350.43,252.79 L351.46,253.10 L352.49,253.41 L353.52,253.74 L354.55,254.07 L355.58,254.41 L356.60,254.77 L357.63,255.13 L358.66,255.50 L359.69,255.88 L360.72,256.27 L361.75,256.67 L362.78,257.07 L363.81,257.49 L364.84,257.92 L365.87,258.35 L366.90,258.79 L367.93,259.25 L368.96,259.71 L369.98,260.18 L371.01,260.66 L372.04,261.15 L373.07,261.65 L374.10,262.15 L375.13,262.67 L376.16,263.19 L377.19,263.72 L378.22,264.26 L379.25,264.81 L380.28,265.37 L381.31,265.93 L382.33,266.51 L383.36,267.09 L384.39,267.68 L385.42,268.28 L386.45,268.89 L387.48,269.50 L388.51,270.12 L389.54,270.76 L390.57,271.39 L391.60,272.04 L392.63,272.69 L393.66,273.35 L394.69,274.02 L395.71,274.69 L396.74,275.37 L397.77,276.05 L398.80,276.74 L399.83,277.44 L400.86,278.14 L401.89,278.85 L402.92,279.56 L403.95,280.28 L404.98,281.01 L406.01,281.74 L407.04,282.47 L408.07,283.21 L409.09,283.95 L410.12,284.70 L411.15,285.45 L412.18,286.21 L413.21,286.98 L414.24,287.75 L415.27,288.53 L416.30,289.31 L417.33,290.09 L418.36,290.89 L419.39,291.69 L420.42,292.49 L421.44,293.30 L422.47,294.12 L423.50,294.94 L424.53,295.77 L425.56,296.60 L426.59,297.44 L427.62,298.29 L428.65,299.14 L429.68,300.00 L430.71,300.87 L431.74,301.74 L432.77,302.62 L433.80,303.51 L434.82,304.40 L435.85,305.30 L436.88,306.21 L437.91,307.12 L438.94,308.04 L439.97,308.97 L441.00,309.90" fill="none" stroke="#2e2e2e" stroke-width="1.5" stroke-linecap="butt" stroke-linejoin="round" stroke-dasharray="1.3 1.5" clip-path="url(#ci)"/>
<path d="M349.40,238.20 L350.43,238.43 L351.46,238.67 L352.49,238.92 L353.52,239.17 L354.55,239.43 L355.58,239.69 L356.60,239.96 L357.63,240.24 L358.66,240.53 L359.69,240.82 L360.72,241.13 L361.75,241.44 L362.78,241.75 L363.81,242.08 L364.84,242.41 L365.87,242.76 L366.90,243.11 L367.93,243.47 L368.96,243.84 L369.98,244.21 L371.01,244.60 L372.04,245.00 L373.07,245.41 L374.10,245.83 L375.13,246.25 L376.16,246.69 L377.19,247.14 L378.22,247.60 L379.25,248.07 L380.28,248.55 L381.31,249.04 L382.33,249.55 L383.36,250.06 L384.39,250.59 L385.42,251.13 L386.45,251.68 L387.48,252.25 L388.51,252.82 L389.54,253.40 L390.57,253.99 L391.60,254.59 L392.63,255.20 L393.66,255.82 L394.69,256.45 L395.71,257.08 L396.74,257.72 L397.77,258.36 L398.80,259.01 L399.83,259.66 L400.86,260.32 L401.89,260.98 L402.92,261.64 L403.95,262.31 L404.98,262.97 L406.01,263.64 L407.04,264.32 L408.07,264.99 L409.09,265.66 L410.12,266.33 L411.15,267.01 L412.18,267.68 L413.21,268.36 L414.24,269.03 L415.27,269.70 L416.30,270.38 L417.33,271.05 L418.36,271.72 L419.39,272.39 L420.42,273.06 L421.44,273.72 L422.47,274.39 L423.50,275.05 L424.53,275.71 L425.56,276.37 L426.59,277.03 L427.62,277.68 L428.65,278.33 L429.68,278.97 L430.71,279.62 L431.74,280.26 L432.77,280.89 L433.80,281.52 L434.82,282.15 L435.85,282.77 L436.88,283.39 L437.91,284.00 L438.94,284.60 L439.97,285.20 L441.00,285.80" fill="none" stroke="#2e2e2e" stroke-width="1.4" stroke-linecap="butt" stroke-linejoin="round" clip-path="url(#ci)"/>
<rect x="349.3" y="226.8" width="91.30000000000001" height="81.80000000000001" fill="none" stroke="#6e6e6e" stroke-width="1"/>
<text x="349.5" y="220.2" font-family='"Liberation Sans", sans-serif' font-size="9.3" text-anchor="middle" fill="#161616">10</text>
<text x="397" y="220.2" font-family='"Liberation Sans", sans-serif' font-size="9.3" text-anchor="middle" fill="#161616" textLength="60.5" lengthAdjust="spacingAndGlyphs">Frequency (Hz)</text>
<text x="441" y="220.2" font-family='"Liberation Sans", sans-serif' font-size="9.3" text-anchor="middle" fill="#161616">100</text>
<text x="448" y="233.7" font-family='"Liberation Sans", sans-serif' font-size="9.8" text-anchor="start" fill="#161616" textLength="28.6" lengthAdjust="spacingAndGlyphs">50,000</text>
<text x="448" y="312.7" font-family='"Liberation Sans", sans-serif' font-size="9.8" text-anchor="start" fill="#161616" textLength="22.6" lengthAdjust="spacingAndGlyphs">5,000</text>
<text x="459.0" y="269.9" font-family='"Liberation Sans", sans-serif' font-size="8.4" text-anchor="middle" fill="#161616" textLength="59.3" lengthAdjust="spacingAndGlyphs" transform="rotate(-90 459.0 269.9)">Noise (nVHz<tspan font-size="5.2" dy="-2.7">-½</tspan><tspan dy="2.7">)</tspan></text>
<line x1="352.5" y1="349.5" x2="365" y2="349.5" stroke="#2e2e2e" stroke-width="1.3" />
<text x="369.6" y="354.1" font-family='"Liberation Sans", sans-serif' font-size="11.2" text-anchor="start" fill="#161616" textLength="52.8" lengthAdjust="spacingAndGlyphs" style="stroke-width:0.48px">Total Noise</text>
<line x1="352.5" y1="363.6" x2="365" y2="363.6" stroke="#2e2e2e" stroke-width="1.2" stroke-dasharray="3 1.7"/>
<text x="369.6" y="368.1" font-family='"Liberation Sans", sans-serif' font-size="11.2" text-anchor="start" fill="#161616" textLength="128.8" lengthAdjust="spacingAndGlyphs" style="stroke-width:0.48px">Feedback Resistor Johnson</text>
<line x1="352.5" y1="377.5" x2="365" y2="377.5" stroke="#2e2e2e" stroke-width="1.3" stroke-dasharray="1.2 1.1"/>
<text x="369.6" y="382.4" font-family='"Liberation Sans", sans-serif' font-size="11.2" text-anchor="start" fill="#161616" textLength="115.6" lengthAdjust="spacingAndGlyphs" style="stroke-width:0.48px">Amplifier Current Noise</text>
<line x1="352.5" y1="391.6" x2="365" y2="391.6" stroke="#2e2e2e" stroke-width="1.1" stroke-dasharray="3.4 2 1.3 2"/>
<text x="369.6" y="396.8" font-family='"Liberation Sans", sans-serif' font-size="11.2" text-anchor="start" fill="#161616" textLength="75.8" lengthAdjust="spacingAndGlyphs" style="stroke-width:0.48px">Tan Delta Noise</text>
<line x1="352.5" y1="405.6" x2="365" y2="405.6" stroke="#a2a2a2" stroke-width="1.1" />
<text x="369.6" y="411.0" font-family='"Liberation Sans", sans-serif' font-size="11.2" text-anchor="start" fill="#161616" textLength="115.2" lengthAdjust="spacingAndGlyphs" style="stroke-width:0.48px">Amplifier Voltage Noise</text>
</svg>
</body>
</html>
